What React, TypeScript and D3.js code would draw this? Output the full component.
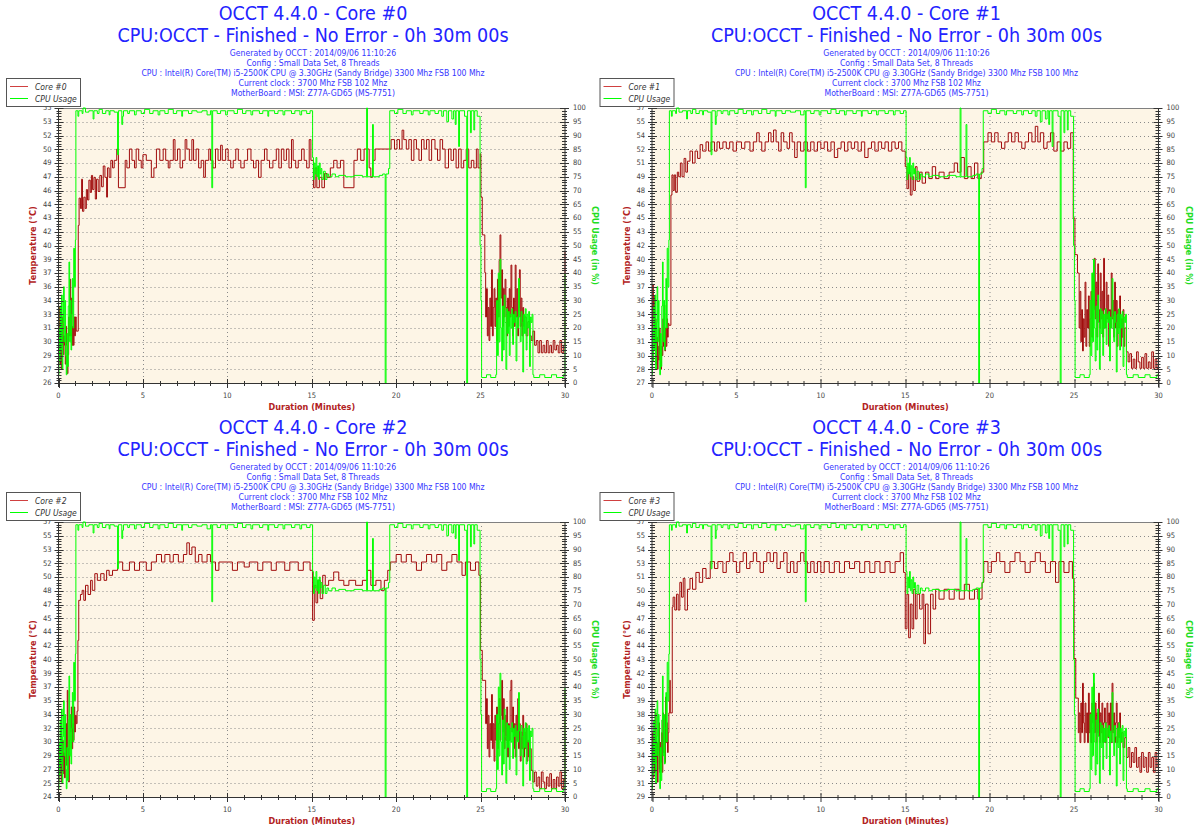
import React, { useEffect } from 'react';
import * as d3 from 'd3';

type Pt = [number, number];

// ---------- DATA ----------
const timeTicks = [0, 5, 10, 15, 20, 25, 30];
const cpuTickLabels = ['0','5','10','15','20','25','30','35','40','45','50','55','60','65','70','75','80','85','90','95','100'];

const coreNames = ['Core #0', 'Core #1', 'Core #2', 'Core #3'];
const titleLine2 = 'CPU:OCCT - Finished - No Error - 0h 30m 00s';
const infoLines = [
  'Generated by OCCT : 2014/09/06 11:10:26',
  'Config : Small Data Set, 8 Threads',
  'CPU : Intel(R) Core(TM) i5-2500K CPU @ 3.30GHz (Sandy Bridge) 3300 Mhz FSB 100 Mhz',
  'Current clock : 3700 Mhz FSB 102 Mhz',
  'MotherBoard : MSI: Z77A-GD65 (MS-7751)',
];

const core0TempLabels = ['26','27','29','30','31','33','34','36','37','39','40','42','43','44','46','47','49','50','52','53','55'];
const core1TempLabels = ['27','28','30','31','33','34','36','37','39','40','42','43','45','46','48','49','51','52','54','55','57'];
const core2TempLabels = ['24','25','27','29','30','32','34','35','37','39','40','42','44','45','47','48','50','52','53','55','57'];
const core3TempLabels = ['29','31','32','34','35','36','38','39','40','42','43','44','46','47','49','50','51','53','54','55','57'];

const core0TempRange: Pt = [26, 55.15];
const core1TempRange: Pt = [27, 57];
const core2TempRange: Pt = [24.2, 57.2];
const core3TempRange: Pt = [29.5, 57.3];

const cpuUsage: Pt[] = [
  [0,3],[0.03,20],[0.07,8],[0.1,28],[0.14,12],[0.18,32],[0.22,5],[0.26,22],[0.3,35],[0.34,15],[0.38,30],[0.42,10],[0.46,3],[0.5,18],[0.54,6],[0.58,28],[0.62,44],[0.66,15],[0.7,30],[0.74,12],[0.78,25],[0.82,38],[0.86,20],[0.9,49],[0.95,35],[1.0,52],
  [1.03,99],[1.15,97],[1.2,99],[1.4,98],[1.45,100],[1.6,98.5],[1.8,99],[2.05,96],[2.1,99],[2.3,98],[2.4,99.5],[2.6,98],[2.8,99],[3.0,97.5],[3.05,99],[3.3,98.5],[3.5,83],[3.55,99],[3.75,94],[3.8,97],[3.85,99],[4.1,98],[4.2,99],[4.5,97.5],[4.6,99],[4.9,98],[5.1,99.5],[5.4,98],[5.6,99],[5.9,97.5],[6.0,99],[6.3,98],[6.5,99.5],[6.8,98],[7.0,99],[7.3,97],[7.35,99],[7.7,98],[7.9,99],[8.2,98.5],[8.5,99],[8.8,97.5],[9.0,99],[9.08,71],[9.13,99],[9.4,98],[9.6,99],[9.9,97.5],[10.0,99],[10.4,98],[10.6,99.5],[10.9,98],[11.1,99],[11.4,97.5],[11.5,99],[11.9,98],[12.1,99],[12.4,97],[12.45,99],[12.8,98],[13.0,99],[13.3,97.5],[13.4,99],[13.8,98],[14.0,99],[14.3,97.5],[14.4,99],[14.7,98],[14.9,99],
  [15.05,82],[15.1,74],[15.15,80],[15.2,76],[15.25,82],[15.3,75],[15.35,79],[15.4,74],[15.45,80],[15.5,76],[15.55,78],[15.6,74],[15.7,77],[15.8,74],[15.9,76],[16.0,75],[16.2,76],[16.4,75],[16.6,75.5],[17.0,75],[17.5,75.5],[18.0,75],[18.25,100],[18.3,75],[18.6,94],[18.65,75],[19.0,75.5],[19.2,76],[19.35,0],[19.4,76],[19.55,78],
  [19.62,99],[19.9,98],[20.1,99.5],[20.4,98],[20.6,99],[20.9,97.5],[21.0,99],[21.4,98],[21.6,99],[21.9,97.5],[22.0,99],[22.3,98],[22.5,99],[22.7,97],[22.8,99],[23.0,95],[23.1,99],[23.3,96],[23.4,99],[23.5,94],[23.55,99],[23.7,86],[23.75,99],[24.05,97],[24.18,0],[24.23,99],[24.4,91],[24.45,99],[24.6,92],[24.65,99],[24.8,97],
  [24.97,50],[25.02,30],[25.06,2],[25.35,3],[25.6,2],[25.9,3],[25.95,30],[26.0,10],[26.05,40],[26.1,15],[26.15,45],[26.2,20],[26.25,8],[26.3,28],[26.35,12],[26.4,32],[26.45,22],[26.5,5],[26.55,27],[26.6,18],[26.65,26],[26.7,10],[26.75,25],[26.8,20],[26.85,27],[26.9,14],[26.95,25],[27.0,22],[27.05,26],[27.1,8],[27.15,24],[27.2,20],[27.25,38],[27.3,24],[27.35,15],[27.4,26],[27.45,22],[27.5,4],[27.55,25],[27.6,18],[27.65,27],[27.7,12],[27.75,25],[27.8,20],[27.85,26],[27.9,6],[27.95,24],[28.0,22],[28.05,25],[28.1,3],[28.15,2],[28.5,3],[28.8,2],[29.2,3],[29.5,2],[29.9,3],[29.98,3],[30,40],
];

const core0Temp: Pt[] = [
  [0,30],[0.04,34],[0.08,28],[0.12,31],[0.16,27.5],[0.2,30],[0.24,33],[0.28,29],[0.32,31],[0.36,30],[0.4,28],[0.44,32],[0.48,30],[0.52,27],[0.56,29],[0.6,33],[0.64,31],[0.68,37],[0.72,31],[0.76,35],[0.8,30],[0.84,32],[0.88,30],[0.92,33],[0.96,31],[1.0,33],[1.05,31.5],
  [1.17,42.7],[1.22,45.6],[1.3,44.5],[1.37,47.6],[1.42,44.2],[1.5,45.7],[1.58,44.5],[1.65,46.5],[1.72,45.4],[1.8,47.5],[1.88,46.2],[1.95,48],[2.02,46.5],[2.1,47.8],[2.18,45.5],[2.25,47.6],[2.35,46.3],[2.45,48],[2.55,46.8],[2.65,49],[2.75,47.8],[2.85,45.7],[2.9,48.8],[3.0,47.8],[3.1,49.6],[3.2,48.8],[3.3,49.6],[3.45,50.8],[3.55,46.7],[3.95,49.6],
  [4.05,48.8],[4.2,50.8],[4.35,49.6],[4.5,48.8],[4.6,50.8],[4.75,49.6],[4.9,48.8],[5.0,50.2],[5.2,49.6],[5.5,47.8],[5.65,48.8],[5.8,50.8],[6.0,49.6],[6.2,50.8],[6.35,49.6],[6.5,48.8],[6.6,49.6],[6.8,51.8],[6.9,49.6],[7.05,50.8],[7.2,48.8],[7.35,49.6],[7.5,51.8],[7.6,50.8],[7.75,49.6],[7.9,51.8],[8.0,49.6],[8.15,50.8],[8.3,48.8],[8.45,49.6],[8.6,47.8],[8.7,49.6],[8.9,50.8],[9.0,49.6],[9.15,48.8],[9.3,50.8],[9.45,49.6],[9.6,51.2],[9.7,49.6],[9.9,50.8],[10.05,49.6],[10.2,48.8],[10.35,49.6],[10.5,50.8],[10.65,49.6],[10.8,48.8],[11.0,49.6],[11.2,50.8],[11.4,49.6],[11.55,48.8],[11.7,49.6],[11.85,47.8],[12.0,49.6],[12.2,50.8],[12.35,49.6],[12.5,48.8],[12.7,49.6],[12.9,50.8],[13.05,48.8],[13.2,50.8],[13.35,49.6],[13.5,50.8],[13.65,48.8],[13.8,51.8],[13.9,49.6],[14.05,48.8],[14.2,49.6],[14.4,50.8],[14.55,49.6],[14.7,48.8],[14.85,51.8],[14.95,49.6],
  [15.1,46.7],[15.2,48.8],[15.3,46.7],[15.45,47.8],[15.6,46.7],[15.75,48.2],[15.9,47.8],[16.1,48.8],[16.3,49.6],[16.5,48.8],[16.7,49.6],[16.9,46.7],[17.5,49.6],[17.7,50.8],[17.9,49.6],[18.1,50.8],[18.4,48.8],[18.5,47.8],[18.6,49.6],[18.75,50.8],
  [19.7,51.8],[19.9,50.8],[20.05,51.8],[20.2,50.8],[20.35,52.8],[20.45,51.8],[20.6,50.8],[20.75,51.8],[20.9,49.6],[21.05,51.8],[21.2,50.8],[21.35,49.6],[21.5,51.8],[21.65,50.8],[21.8,51.8],[21.95,49.6],[22.1,51.8],[22.3,50.8],[22.45,49.6],[22.6,51.8],[22.75,50.8],[22.9,48.8],[23.1,50.8],[23.25,49.6],[23.4,50.8],[23.55,48.8],[23.7,50.8],[23.85,48.8],[24.0,49.6],[24.15,50.8],[24.3,48.8],[24.45,49.6],[24.6,48.8],[24.75,50.8],[24.85,48.8],
  [24.98,50.3],[25.02,45.7],[25.1,41.7],[25.25,37.7],[25.3,33],[25.35,36],[25.4,31],[25.45,34],[25.5,30.5],[25.55,35],[25.6,32],[25.65,38],[25.7,31],[25.75,34],[25.8,36],[25.85,32],[25.9,35],[25.95,30.5],[26.0,37],[26.05,33],[26.1,39],[26.15,41.7],[26.2,35],[26.25,38],[26.3,32],[26.35,36],[26.4,33],[26.45,37],[26.5,34],[26.55,31],[26.6,35],[26.65,32],[26.7,36],[26.75,33],[26.8,38.5],[26.85,34],[26.9,31],[26.95,35],[27.0,32],[27.05,38.5],[27.1,33],[27.15,36],[27.2,31],[27.25,34],[27.3,38],[27.35,32],[27.4,35],[27.45,31],[27.5,34],[27.55,32],[27.6,33],[27.7,31],[27.8,32.5],[27.9,31],[28.0,30.5],[28.1,31.5],[28.2,30],[28.3,30.5],[28.4,29.2],[28.5,30.5],[28.6,29.2],[28.7,30],[28.8,29.2],[28.9,30.5],[29.0,29.2],[29.1,30],[29.2,29.2],[29.3,30.5],[29.4,29.5],[29.5,30],[29.6,29.2],[29.7,30.5],[29.8,29.2],[29.9,30],[29.98,30],[30,40],
];

const core1Temp: Pt[] = [
  [0,33],[0.04,37.7],[0.08,34],[0.12,36.5],[0.16,31],[0.2,34],[0.24,29],[0.28,32],[0.32,28.5],[0.36,31],[0.4,29.5],[0.44,33],[0.48,30],[0.52,28.5],[0.56,31],[0.6,30],[0.64,34],[0.68,31],[0.72,35.5],[0.76,30.5],[0.8,33],[0.84,31],[0.88,34],[0.92,32],[0.96,33.5],[1.0,33.3],
  [1.12,47.5],[1.18,49.7],[1.25,48],[1.32,49.7],[1.4,47.8],[1.5,50],[1.58,49.5],[1.68,51],[1.78,49.5],[1.9,51.5],[2.0,50],[2.1,51.2],[2.25,52.3],[2.4,51],[2.55,52.3],[2.7,51.5],[2.85,53],[3.0,52.3],[3.2,53.3],[3.35,52.3],[3.5,53.3],[3.7,52.3],[3.85,53.3],
  [4.0,52.6],[4.2,53.3],[4.4,52.6],[4.6,53.3],[4.8,52.3],[5.0,53.3],[5.3,52.6],[5.5,53.3],[5.8,52.3],[6.0,53.3],[6.2,54.3],[6.35,53.3],[6.5,52.3],[6.7,53.3],[6.9,54.3],[7.05,53.3],[7.2,54.6],[7.35,53.3],[7.5,52.3],[7.65,54.3],[7.8,53.3],[8.0,52.6],[8.15,54.3],[8.3,53.3],[8.45,51.6],[8.6,53.3],[8.8,52.3],[9.0,53.3],[9.2,52.3],[9.4,53.3],[9.6,52.3],[9.8,53.3],[10.0,52.6],[10.2,53.3],[10.4,52.3],[10.6,53.3],[10.8,51.6],[11.0,52.6],[11.2,53.3],[11.4,52.3],[11.6,53.3],[11.8,52.6],[12.0,53.3],[12.2,52.3],[12.4,53.3],[12.6,51.6],[12.8,52.6],[13.0,53.3],[13.2,52.3],[13.4,53.3],[13.6,52.6],[13.8,53.3],[14.0,52.3],[14.2,53.3],[14.4,52.6],[14.6,53.3],[14.8,52.3],
  [15.0,50.6],[15.1,48.2],[15.2,50],[15.3,47.5],[15.4,49.5],[15.5,48],[15.6,50.6],[15.7,49],[15.85,50],[16.0,48.8],[16.2,50],[16.4,49.3],[16.6,50.6],[16.8,49.3],[17.0,50],[17.3,49.3],[17.6,50],[17.9,51],[18.1,50],[18.3,51.6],[18.5,49.3],[18.7,50.6],[18.9,49.3],[19.1,51],[19.3,49.3],[19.5,50],
  [19.65,53.3],[19.9,54.3],[20.1,53.3],[20.3,54.3],[20.5,53.3],[20.7,52.6],[20.9,53.3],[21.1,54.3],[21.3,53.3],[21.5,54.3],[21.7,53.3],[21.9,52.6],[22.1,53.3],[22.3,54.3],[22.5,53.3],[22.7,55],[22.85,53.3],[23.0,54.3],[23.2,52.6],[23.4,53.3],[23.6,54.3],[23.8,52.3],[24.0,53.3],[24.2,52.3],[24.4,53.3],[24.6,52.6],[24.8,54.3],
  [24.95,45],[25.05,41],[25.2,39],[25.3,33],[25.35,37],[25.4,31.5],[25.45,35],[25.5,30.5],[25.55,34],[25.6,32],[25.65,38],[25.7,31],[25.75,35],[25.8,33],[25.85,36.5],[25.9,31],[25.95,34],[26.0,37],[26.05,32],[26.1,39],[26.15,35],[26.2,40.6],[26.25,34],[26.3,38],[26.35,32],[26.4,40],[26.45,35],[26.5,33],[26.55,39],[26.6,34],[26.65,37],[26.7,32],[26.75,40.6],[26.8,35],[26.85,33],[26.9,38],[26.95,34],[27.0,36.6],[27.05,31],[27.1,35],[27.15,33],[27.2,39],[27.25,34],[27.3,36],[27.35,32],[27.4,38],[27.45,33],[27.5,36],[27.55,31],[27.6,35],[27.65,33],[27.7,36.5],[27.75,31],[27.8,34],[27.85,32],[27.9,35],[27.95,31],[28.0,33],[28.1,30.4],[28.2,29.3],[28.3,30.2],[28.4,28.6],[28.5,29.6],[28.6,28.6],[28.7,30.4],[28.8,29.3],[28.9,28.6],[29.0,29.8],[29.1,28.6],[29.2,30.2],[29.3,28.6],[29.4,29.3],[29.5,28.6],[29.6,30.4],[29.7,28.6],[29.8,29.6],[29.9,28.6],[29.98,29],[30,40.6],
];

const core2Temp: Pt[] = [
  [0,26],[0.04,30],[0.08,27],[0.12,29],[0.16,26],[0.2,28],[0.24,31],[0.28,27],[0.32,29.5],[0.36,26.5],[0.4,30],[0.44,33],[0.48,28],[0.52,37],[0.56,30],[0.6,26],[0.64,31],[0.68,34],[0.72,32],[0.76,35],[0.8,30],[0.84,33],[0.88,31],[0.92,35],[0.96,32],[1.0,34],[1.05,33],[1.1,34.5],
  [1.15,43],[1.2,47.8],[1.3,48.5],[1.4,49],[1.5,47.8],[1.6,49.6],[1.75,48.5],[1.9,50.2],[2.0,49],[2.15,51],[2.3,50.2],[2.5,51],[2.7,50.2],[2.85,51.4],[3.0,50.8],[3.2,51.4],[3.5,52.4],[3.8,51.4],
  [4.2,52.4],[4.5,51.4],[4.8,52.4],[5.2,51.4],[5.5,52.4],[5.8,53.3],[6.1,52.4],[6.3,53.3],[6.6,52.4],[6.8,53.3],[7.1,52.4],[7.4,53.3],[7.6,54.7],[7.75,53.3],[7.9,54.2],[8.1,52.4],[8.3,53.3],[8.5,52.4],[8.8,53.3],[9.0,52.4],[9.3,51.4],[9.5,52.4],[10,52.4],[10.3,51.4],[10.6,52.4],[11,51.8],[11.3,52.4],[11.8,51.4],[12.1,52.4],[12.6,51.4],[12.9,52.4],[13.4,51.4],[13.7,52.4],[14.2,51.4],[14.5,52.4],[14.9,51.4],
  [15.05,45.4],[15.15,49.6],[15.25,47.5],[15.35,50.2],[15.5,48],[15.65,50.8],[15.8,49.6],[16.0,50.2],[16.3,51.2],[16.6,50.2],[16.9,49.6],[17.2,50.2],[17.6,49.6],[18.0,50.2],[18.3,51.4],[18.5,49.6],[18.8,50.2],[19.1,49],[19.3,50.2],[19.5,51.4],
  [19.65,52.4],[20,53.3],[20.3,52.4],[20.6,53.3],[20.9,52.4],[21.2,51.4],[21.5,52.4],[21.8,53.3],[22.1,52.4],[22.4,53.3],[22.7,51.4],[23.0,52.4],[23.3,53.3],[23.6,52.4],[23.9,50.8],[24.1,52.4],[24.4,51.4],[24.7,52.4],[24.9,50.8],
  [25.0,41.8],[25.1,38.2],[25.3,33],[25.35,36],[25.4,30],[25.45,34],[25.5,29],[25.55,33],[25.6,31],[25.65,36.5],[25.7,30],[25.75,33],[25.8,28.5],[25.85,34],[25.9,31],[25.95,35],[26.0,30],[26.05,33],[26.1,36],[26.15,31],[26.2,34],[26.25,38.2],[26.3,32],[26.35,36],[26.4,30],[26.45,34],[26.5,31],[26.55,35],[26.6,29],[26.65,33],[26.7,31],[26.75,37],[26.8,38.2],[26.85,32],[26.9,35],[26.95,30],[27.0,33],[27.05,29],[27.1,34],[27.15,31],[27.2,36],[27.25,30],[27.3,33],[27.35,28.5],[27.4,32],[27.45,30],[27.5,34],[27.55,29],[27.6,32],[27.65,30],[27.7,33],[27.75,28.5],[27.8,31],[27.85,29],[27.9,30],[28.0,27.4],[28.1,26],[28.2,27.2],[28.3,25.5],[28.4,26.6],[28.5,25.2],[28.6,27.2],[28.7,26],[28.8,25.2],[28.9,26.6],[29.0,25.5],[29.1,27],[29.2,25.2],[29.3,26.3],[29.4,25.2],[29.5,26.6],[29.6,25.5],[29.7,27.2],[29.8,25.2],[29.9,26.3],[29.98,26],[30,37],
];

const core3Temp: Pt[] = [
  [0,32],[0.04,36],[0.08,31.5],[0.12,34],[0.16,32],[0.2,38],[0.24,33],[0.28,35],[0.32,31],[0.36,34],[0.4,37],[0.44,32],[0.48,35],[0.52,33],[0.56,36],[0.6,32],[0.64,38],[0.68,34],[0.72,36],[0.76,33],[0.8,39.6],[0.84,35],[0.88,37],[0.92,34],[0.96,36],[1.0,38],[1.05,41.3],[1.08,38],
  [1.2,48.7],[1.25,49.7],[1.35,48.4],[1.45,50],[1.55,48.4],[1.65,51.2],[1.75,49.7],[1.85,51.6],[1.95,48.4],[2.1,50.5],[2.25,51.6],[2.4,50.5],[2.6,52.2],[2.8,51.2],[3.0,52.6],[3.2,51.6],[3.45,53.3],[3.7,52.6],[3.9,53.3],
  [4.2,52.2],[4.4,53.3],[4.6,54.2],[4.8,53.3],[5.0,52.2],[5.2,53.3],[5.4,54.2],[5.6,52.6],[5.8,53.3],[6.0,54.2],[6.2,53.3],[6.4,52.2],[6.6,53.3],[6.8,54.2],[7.0,53.3],[7.2,54.2],[7.4,52.6],[7.6,53.3],[7.8,54.2],[8.0,52.2],[8.2,53.3],[8.4,52.2],[8.6,53.3],[8.8,54.2],[9.0,53.3],[9.2,52.2],[9.4,53.3],[9.6,52.2],[9.8,53.3],[10.0,52.2],[10.2,53.3],[10.5,52.2],[10.8,53.3],[11.1,52.2],[11.4,53.3],[11.7,52.6],[12.0,53.3],[12.3,52.2],[12.6,53.3],[12.9,52.2],[13.2,53.3],[13.5,52.2],[13.8,53.3],[14.1,52.2],[14.4,53.3],[14.7,54.2],[14.9,52.2],
  [15.0,46.5],[15.1,50],[15.2,45.6],[15.3,49],[15.4,46.5],[15.5,50.5],[15.6,47.5],[15.7,50],[15.85,48.5],[16.0,50],[16.1,45],[16.2,49],[16.35,46],[16.5,50],[16.65,48.5],[16.8,50.5],[17.0,49.5],[17.3,50.5],[17.6,49.5],[17.9,50.5],[18.2,49.5],[18.5,51],[18.8,49.5],[19.1,50.5],[19.3,49.5],[19.55,51.2],
  [19.65,53.3],[19.9,52.2],[20.1,53.3],[20.4,54.2],[20.6,53.3],[20.9,52.2],[21.2,53.3],[21.5,54.2],[21.8,53.3],[22.1,52.2],[22.4,53.3],[22.7,54.2],[23.0,53.3],[23.3,52.2],[23.6,53.3],[23.9,51.2],[24.1,53.3],[24.4,52.2],[24.7,53.3],[24.9,51.6],
  [25.0,43.5],[25.1,39.5],[25.25,36],[25.3,38],[25.35,35],[25.4,39],[25.45,36],[25.5,41],[25.55,37],[25.6,35],[25.65,39],[25.7,36],[25.75,38],[25.8,35],[25.85,40],[25.9,36],[25.95,38],[26.0,35],[26.05,39],[26.1,37],[26.15,41],[26.2,36],[26.25,39],[26.3,35],[26.35,38],[26.4,36],[26.45,40],[26.5,35],[26.55,38],[26.6,36],[26.65,39],[26.7,35],[26.75,37],[26.8,38.5],[26.85,35],[26.9,37],[26.95,39],[27.0,35.5],[27.05,38],[27.1,36],[27.15,39],[27.2,35],[27.25,41],[27.3,36],[27.35,38],[27.4,35],[27.45,37],[27.5,39],[27.55,35],[27.6,37],[27.65,35.5],[27.7,38],[27.75,35],[27.8,36],[27.9,34.5],[28.0,35.5],[28.1,33.5],[28.2,34.5],[28.3,32.5],[28.4,34],[28.5,33],[28.6,34.5],[28.7,32.5],[28.8,33.5],[28.9,32],[29.0,34],[29.1,32.5],[29.2,33.5],[29.3,32],[29.4,34],[29.5,32.5],[29.6,33.5],[29.7,32],[29.8,34],[29.9,32.5],[29.98,33],[30,40],
];

const panels = [
  { name: coreNames[0], temp: core0Temp, range: core0TempRange, labels: core0TempLabels },
  { name: coreNames[1], temp: core1Temp, range: core1TempRange, labels: core1TempLabels },
  { name: coreNames[2], temp: core2Temp, range: core2TempRange, labels: core2TempLabels },
  { name: coreNames[3], temp: core3Temp, range: core3TempRange, labels: core3TempLabels },
];

// ---------- LAYOUT ----------
const PLOT = { left: 58.5, right: 565, top: 108, bottom: 383 };
const PANEL_DX = 593.5;
const PANEL_DY = 414;
const FONT = '"DejaVu Sans Condensed", "DejaVu Sans", sans-serif';
const RED = '#a00c0c';
const GREEN = '#00ff00';
const TITLE_BLUE = '#2323ff';
const AXIS = '#333333';

function Panel({ idx, name, temp, range, labels }: { idx: number; name: string; temp: Pt[]; range: Pt; labels: string[] }) {
  const ox = (idx % 2) * PANEL_DX;
  const oy = Math.floor(idx / 2) * PANEL_DY;
  const x = d3.scaleLinear().domain([0, 30]).range([PLOT.left, PLOT.right]);
  const yT = d3.scaleLinear().domain(range).range([PLOT.bottom, PLOT.top]);
  const yC = d3.scaleLinear().domain([0, 100]).range([PLOT.bottom, PLOT.top]);
  const tempLine = d3.line<Pt>().x(d => x(d[0])).y(d => yT(d[1])).curve(d3.curveStepAfter);
  const cpuLine = d3.line<Pt>().x(d => x(d[0])).y(d => yC(d[1])).curve(d3.curveStepAfter);
  const clipId = `clip${idx}`;
  const tempStep = (range[1] - range[0]) / 20;
  const majorT = labels.map((_, i) => range[0] + i * tempStep);
  const minorT: number[] = [];
  for (let i = 0; i < 20; i++) for (let k = 1; k < 5; k++) minorT.push(range[0] + (i + k / 5) * tempStep);
  const cpuMajor = cpuTickLabels.map(Number);
  const cpuMinor = d3.range(0, 101).filter(v => v % 5 !== 0);
  const minutes = d3.range(0, 31).filter(v => v % 5 !== 0);
  const midY = (PLOT.top + PLOT.bottom) / 2;

  return (
    <g transform={`translate(${ox},${oy})`}>
      <defs>
        <clipPath id={clipId}>
          <rect x={PLOT.left} y={PLOT.top - 1} width={PLOT.right - PLOT.left + 1} height={PLOT.bottom - PLOT.top + 2} />
        </clipPath>
      </defs>
      <text x={313} y={20} textAnchor="middle" fontFamily={FONT} fontSize={19.5} fill={TITLE_BLUE}>{`OCCT 4.4.0 - ${name}`}</text>
      <text x={313} y={42} textAnchor="middle" fontFamily={FONT} fontSize={19.5} fill={TITLE_BLUE}>{titleLine2}</text>
      {infoLines.map((t, i) => (
        <text key={i} x={313} y={55.5 + i * 10} textAnchor="middle" fontFamily={FONT} fontSize={8.6} fill="#3535ff">{t}</text>
      ))}
      <rect x={PLOT.left} y={PLOT.top} width={PLOT.right - PLOT.left} height={PLOT.bottom - PLOT.top} fill="#fdf5e6" />
      {majorT.slice(1, 20).map((v, i) => (
        <line key={'gh' + i} x1={PLOT.left} x2={PLOT.right} y1={Math.round(yT(v)) + 0.5} y2={Math.round(yT(v)) + 0.5} stroke="#8a8a8a" strokeDasharray="1,3" />
      ))}
      {timeTicks.slice(1, 6).map((t, i) => (
        <line key={'gv' + i} y1={PLOT.top} y2={PLOT.bottom} x1={Math.round(x(t)) + 0.5} x2={Math.round(x(t)) + 0.5} stroke="#8a8a8a" strokeDasharray="1,3" />
      ))}
      <line x1={PLOT.left} x2={PLOT.right} y1={PLOT.top + 0.5} y2={PLOT.top + 0.5} stroke="#808080" />
      <g clipPath={`url(#${clipId})`}>
        <path d={tempLine(temp) || ''} fill="none" stroke={RED} strokeWidth={1} />
        <path d={cpuLine(cpuUsage) || ''} fill="none" stroke={GREEN} strokeWidth={1} />
      </g>
      <line x1={PLOT.left} x2={PLOT.left} y1={PLOT.top} y2={PLOT.bottom + 4} stroke={AXIS} />
      {minorT.map((v, i) => (
        <line key={'ml' + i} x1={PLOT.left - 2} x2={PLOT.left + 3} y1={Math.round(yT(v)) + 0.5} y2={Math.round(yT(v)) + 0.5} stroke={AXIS} />
      ))}
      {majorT.map((v, i) => (
        <line key={'Ml' + i} x1={PLOT.left - 4} x2={PLOT.left + 5} y1={Math.round(yT(v)) + 0.5} y2={Math.round(yT(v)) + 0.5} stroke={AXIS} />
      ))}
      {majorT.map((v, i) => (
        <text key={'tl' + i} x={PLOT.left - 7} y={yT(v)} dy="0.33em" textAnchor="end" fontFamily={FONT} fontSize={7.5} fill="#444">{labels[i]}</text>
      ))}
      <line x1={PLOT.right} x2={PLOT.right} y1={PLOT.top} y2={PLOT.bottom + 4} stroke={AXIS} />
      {cpuMinor.map((v, i) => (
        <line key={'mr' + i} x1={PLOT.right - 3} x2={PLOT.right + 2} y1={Math.round(yC(v)) + 0.5} y2={Math.round(yC(v)) + 0.5} stroke={AXIS} />
      ))}
      {cpuMajor.map((v, i) => (
        <line key={'Mr' + i} x1={PLOT.right - 5} x2={PLOT.right + 4} y1={Math.round(yC(v)) + 0.5} y2={Math.round(yC(v)) + 0.5} stroke={AXIS} />
      ))}
      {cpuMajor.map((v, i) => (
        <text key={'tr' + i} x={PLOT.right + 8} y={yC(v)} dy="0.33em" textAnchor="start" fontFamily={FONT} fontSize={7.5} fill="#444">{cpuTickLabels[i]}</text>
      ))}
      <line x1={PLOT.left} x2={PLOT.right} y1={PLOT.bottom + 0.5} y2={PLOT.bottom + 0.5} stroke={AXIS} />
      {minutes.map((t, i) => (
        <line key={'mx' + i} x1={Math.round(x(t)) + 0.5} x2={Math.round(x(t)) + 0.5} y1={PLOT.bottom - 2} y2={PLOT.bottom + 3} stroke={AXIS} />
      ))}
      {timeTicks.map((t, i) => (
        <line key={'Mx' + i} x1={Math.round(x(t)) + 0.5} x2={Math.round(x(t)) + 0.5} y1={PLOT.bottom - 4} y2={PLOT.bottom + 5} stroke={AXIS} />
      ))}
      {timeTicks.map((t, i) => (
        <text key={'tx' + i} x={x(t)} y={PLOT.bottom + 15} textAnchor="middle" fontFamily={FONT} fontSize={7.5} fill="#444">{String(t)}</text>
      ))}
      <text x={(PLOT.left + PLOT.right) / 2} y={PLOT.bottom + 27} textAnchor="middle" fontFamily={FONT} fontSize={9} fontWeight="bold" fill="#b22222">Duration (Minutes)</text>
      <text transform={`translate(36,${midY}) rotate(-90)`} textAnchor="middle" fontFamily={FONT} fontSize={9} fontWeight="bold" fill="#b22222">Temperature (°C)</text>
      <text transform={`translate(592,${midY}) rotate(90)`} textAnchor="middle" fontFamily={FONT} fontSize={9} fontWeight="bold" fill="#22dd22">CPU Usage (in %)</text>
      <rect x={6.5} y={78.5} width={74} height={28} fill="#ffffff" stroke="#555" />
      <line x1={10} x2={28} y1={86.5} y2={86.5} stroke="#d04040" />
      <text x={35} y={89.5} fontFamily={FONT} fontSize={8.5} fontStyle="italic" fill="#333">{name}</text>
      <line x1={10} x2={28} y1={98.5} y2={98.5} stroke={GREEN} />
      <text x={35} y={101.5} fontFamily={FONT} fontSize={8.5} fontStyle="italic" fill="#333">CPU Usage</text>
    </g>
  );
}

export default function App() {
  useEffect(() => {
    document.body.style.margin = '0';
  }, []);
  return (
    <svg width={1200} height={833} style={{ position: 'absolute', left: 0, top: 0, background: '#ffffff' }}>
      <rect width={1200} height={833} fill="#ffffff" />
      {panels.map((p, i) => (
        <Panel key={i} idx={i} name={p.name} temp={p.temp} range={p.range} labels={p.labels} />
      ))}
    </svg>
  );
}
